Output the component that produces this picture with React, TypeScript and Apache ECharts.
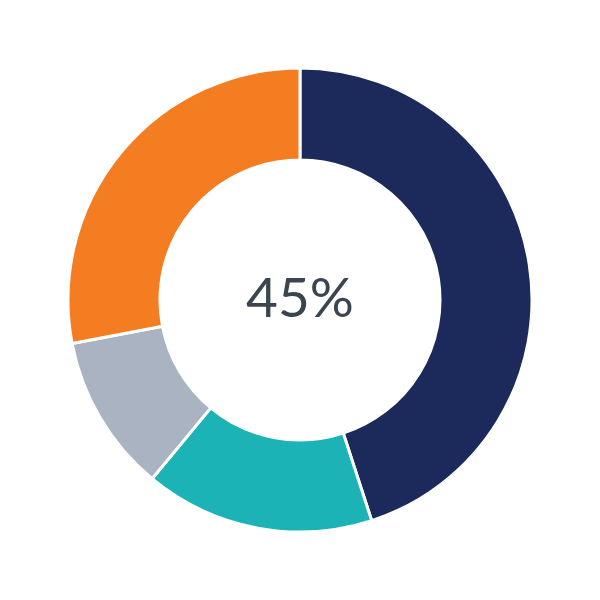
import * as echarts from 'echarts';
import React, { useEffect, useRef } from 'react';

const categories = ['Navy', 'Teal', 'Gray', 'Orange'];
const values = [45, 16, 11, 28];
const colors = ['#1b2a5b', '#1bb3b6', '#a9b3c1', '#f37d20'];
const centerLabel = '45%';

const App: React.FC = () => {
  const ref = useRef<HTMLDivElement>(null);

  useEffect(() => {
    document.body.style.margin = '0';
    const chart = echarts.init(ref.current, undefined, { renderer: 'svg' });
    chart.setOption({
      animation: false,
      graphic: [
        {
          type: 'text',
          x: 300,
          y: 296,
          style: {
            text: centerLabel,
            fontFamily: 'Lato',
            fontSize: 55,
            fill: '#3b4550',
            align: 'center',
            verticalAlign: 'middle',
          },
        },
      ],
      series: [
        {
          type: 'pie',
          center: [300, 300],
          radius: [140, 232],
          startAngle: 90,
          clockwise: true,
          label: { show: false },
          labelLine: { show: false },
          emphasis: { disabled: true },
          itemStyle: { borderColor: '#fff', borderWidth: 3 },
          data: categories.map((name, i) => ({
            name,
            value: values[i],
            itemStyle: { color: colors[i] },
          })),
        },
      ],
    });
    return () => {
      chart.dispose();
    };
  }, []);

  return <div ref={ref} style={{ width: 600, height: 600 }}></div>;
};

export default App;
